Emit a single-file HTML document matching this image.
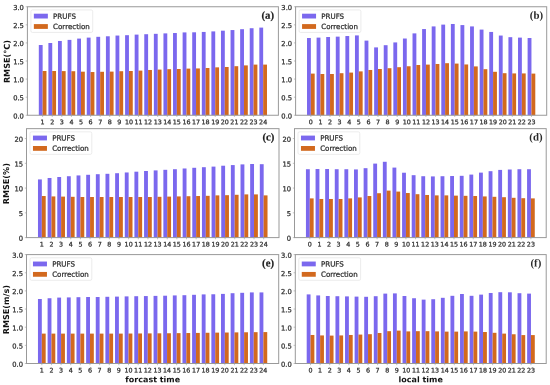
<!DOCTYPE html>
<html><head><meta charset="utf-8"><title>RMSE</title>
<style>
html,body{margin:0;padding:0;background:#fff}
svg{display:block;text-rendering:geometricPrecision;font-family:"DejaVu Sans","Liberation Sans",sans-serif}
.tag{font-family:"Liberation Serif","DejaVu Serif",serif;font-weight:bold;font-size:10.8px;fill:#202020;stroke:#202020;stroke-width:0.2px;text-anchor:middle}
.tag.r{stroke-width:0;fill:#2a2a2a}
.t text{stroke:#2e2e2e;stroke-width:.25px}
.lab{font-weight:bold;font-size:8.1px;fill:#111;text-anchor:middle}
</style></head><body>
<svg width="550" height="385" viewBox="0 0 550 385">
<rect width="550" height="385" fill="#fff"/>
<g>
<rect x="38.81" y="45.02" width="3.83" height="70.23" fill="#7b68ee"/>
<rect x="42.64" y="71" width="3.83" height="44.25" fill="#d2691e"/>
<rect x="48.4" y="43" width="3.83" height="72.25" fill="#7b68ee"/>
<rect x="52.23" y="71" width="3.83" height="44.25" fill="#d2691e"/>
<rect x="57.98" y="40.97" width="3.83" height="74.28" fill="#7b68ee"/>
<rect x="61.82" y="71.1" width="3.83" height="44.15" fill="#d2691e"/>
<rect x="67.57" y="39.89" width="3.83" height="75.36" fill="#7b68ee"/>
<rect x="71.41" y="71.21" width="3.83" height="44.04" fill="#d2691e"/>
<rect x="77.16" y="38.59" width="3.83" height="76.66" fill="#7b68ee"/>
<rect x="80.99" y="71.68" width="3.83" height="43.57" fill="#d2691e"/>
<rect x="86.75" y="37.61" width="3.83" height="77.64" fill="#7b68ee"/>
<rect x="90.58" y="72.04" width="3.83" height="43.21" fill="#d2691e"/>
<rect x="96.33" y="36.82" width="3.83" height="78.43" fill="#7b68ee"/>
<rect x="100.17" y="71.79" width="3.83" height="43.46" fill="#d2691e"/>
<rect x="105.92" y="36.28" width="3.83" height="78.97" fill="#7b68ee"/>
<rect x="109.76" y="71.61" width="3.83" height="43.64" fill="#d2691e"/>
<rect x="115.51" y="35.55" width="3.83" height="79.7" fill="#7b68ee"/>
<rect x="119.34" y="71.21" width="3.83" height="44.04" fill="#d2691e"/>
<rect x="125.1" y="35.19" width="3.83" height="80.06" fill="#7b68ee"/>
<rect x="128.93" y="71" width="3.83" height="44.25" fill="#d2691e"/>
<rect x="134.68" y="34.61" width="3.83" height="80.64" fill="#7b68ee"/>
<rect x="138.52" y="70.6" width="3.83" height="44.65" fill="#d2691e"/>
<rect x="144.27" y="34.22" width="3.83" height="81.03" fill="#7b68ee"/>
<rect x="148.11" y="69.98" width="3.83" height="45.27" fill="#d2691e"/>
<rect x="153.86" y="33.82" width="3.83" height="81.43" fill="#7b68ee"/>
<rect x="157.69" y="69.59" width="3.83" height="45.66" fill="#d2691e"/>
<rect x="163.45" y="33.38" width="3.83" height="81.87" fill="#7b68ee"/>
<rect x="167.28" y="69.19" width="3.83" height="46.06" fill="#d2691e"/>
<rect x="173.03" y="33.02" width="3.83" height="82.23" fill="#7b68ee"/>
<rect x="176.87" y="69.01" width="3.83" height="46.24" fill="#d2691e"/>
<rect x="182.62" y="32.41" width="3.83" height="82.84" fill="#7b68ee"/>
<rect x="186.46" y="68.61" width="3.83" height="46.64" fill="#d2691e"/>
<rect x="192.21" y="32.3" width="3.83" height="82.95" fill="#7b68ee"/>
<rect x="196.04" y="68.43" width="3.83" height="46.82" fill="#d2691e"/>
<rect x="201.8" y="31.94" width="3.83" height="83.31" fill="#7b68ee"/>
<rect x="205.63" y="68" width="3.83" height="47.25" fill="#d2691e"/>
<rect x="211.38" y="31.4" width="3.83" height="83.85" fill="#7b68ee"/>
<rect x="215.22" y="67.35" width="3.83" height="47.9" fill="#d2691e"/>
<rect x="220.97" y="30.68" width="3.83" height="84.57" fill="#7b68ee"/>
<rect x="224.81" y="66.99" width="3.83" height="48.26" fill="#d2691e"/>
<rect x="230.56" y="30.06" width="3.83" height="85.19" fill="#7b68ee"/>
<rect x="234.39" y="66.19" width="3.83" height="49.06" fill="#d2691e"/>
<rect x="240.15" y="29.19" width="3.83" height="86.06" fill="#7b68ee"/>
<rect x="243.98" y="65.4" width="3.83" height="49.85" fill="#d2691e"/>
<rect x="249.73" y="28.22" width="3.83" height="87.03" fill="#7b68ee"/>
<rect x="253.57" y="64.6" width="3.83" height="50.65" fill="#d2691e"/>
<rect x="259.32" y="27.6" width="3.83" height="87.65" fill="#7b68ee"/>
<rect x="263.16" y="64.6" width="3.83" height="50.65" fill="#d2691e"/>
<rect x="27.4" y="6.75" width="251" height="108.5" fill="none" stroke="#999" stroke-width="1"/>
<path d="M42.64 115.25v1.7M52.23 115.25v1.7M61.82 115.25v1.7M71.41 115.25v1.7M80.99 115.25v1.7M90.58 115.25v1.7M100.17 115.25v1.7M109.76 115.25v1.7M119.34 115.25v1.7M128.93 115.25v1.7M138.52 115.25v1.7M148.11 115.25v1.7M157.69 115.25v1.7M167.28 115.25v1.7M176.87 115.25v1.7M186.46 115.25v1.7M196.04 115.25v1.7M205.63 115.25v1.7M215.22 115.25v1.7M224.81 115.25v1.7M234.39 115.25v1.7M243.98 115.25v1.7M253.57 115.25v1.7M263.16 115.25v1.7M27.4 115.25h-1.7M27.4 97.17h-1.7M27.4 79.08h-1.7M27.4 61h-1.7M27.4 42.92h-1.7M27.4 24.83h-1.7M27.4 6.75h-1.7" stroke="#999" stroke-width="0.6" fill="none"/>
<g class="t" font-size="7.1" fill="#2e2e2e">
<g text-anchor="middle" font-size="6.35">
<text transform="rotate(0.03 42.64 124.2)" x="42.64" y="124.2">1</text>
<text transform="rotate(0.03 52.23 124.2)" x="52.23" y="124.2">2</text>
<text transform="rotate(0.03 61.82 124.2)" x="61.82" y="124.2">3</text>
<text transform="rotate(0.03 71.41 124.2)" x="71.41" y="124.2">4</text>
<text transform="rotate(0.03 80.99 124.2)" x="80.99" y="124.2">5</text>
<text transform="rotate(0.03 90.58 124.2)" x="90.58" y="124.2">6</text>
<text transform="rotate(0.03 100.17 124.2)" x="100.17" y="124.2">7</text>
<text transform="rotate(0.03 109.76 124.2)" x="109.76" y="124.2">8</text>
<text transform="rotate(0.03 119.34 124.2)" x="119.34" y="124.2">9</text>
<text transform="rotate(0.03 128.93 124.2)" x="128.93" y="124.2">10</text>
<text transform="rotate(0.03 138.52 124.2)" x="138.52" y="124.2">11</text>
<text transform="rotate(0.03 148.11 124.2)" x="148.11" y="124.2">12</text>
<text transform="rotate(0.03 157.69 124.2)" x="157.69" y="124.2">13</text>
<text transform="rotate(0.03 167.28 124.2)" x="167.28" y="124.2">14</text>
<text transform="rotate(0.03 176.87 124.2)" x="176.87" y="124.2">15</text>
<text transform="rotate(0.03 186.46 124.2)" x="186.46" y="124.2">16</text>
<text transform="rotate(0.03 196.04 124.2)" x="196.04" y="124.2">17</text>
<text transform="rotate(0.03 205.63 124.2)" x="205.63" y="124.2">18</text>
<text transform="rotate(0.03 215.22 124.2)" x="215.22" y="124.2">19</text>
<text transform="rotate(0.03 224.81 124.2)" x="224.81" y="124.2">20</text>
<text transform="rotate(0.03 234.39 124.2)" x="234.39" y="124.2">21</text>
<text transform="rotate(0.03 243.98 124.2)" x="243.98" y="124.2">22</text>
<text transform="rotate(0.03 253.57 124.2)" x="253.57" y="124.2">23</text>
<text transform="rotate(0.03 263.16 124.2)" x="263.16" y="124.2">24</text>
</g><g text-anchor="end" font-size="6.75">
<text transform="rotate(0.03 23.9 118.45)" x="23.9" y="118.45">0.0</text>
<text transform="rotate(0.03 23.9 100.37)" x="23.9" y="100.37">0.5</text>
<text transform="rotate(0.03 23.9 82.28)" x="23.9" y="82.28">1.0</text>
<text transform="rotate(0.03 23.9 64.2)" x="23.9" y="64.2">1.5</text>
<text transform="rotate(0.03 23.9 46.12)" x="23.9" y="46.12">2.0</text>
<text transform="rotate(0.03 23.9 28.03)" x="23.9" y="28.03">2.5</text>
<text transform="rotate(0.03 23.9 9.95)" x="23.9" y="9.95">3.0</text>
</g>
<rect x="30.9" y="9.95" width="61.8" height="22.5" rx="1.5" fill="#fff" fill-opacity="0.8" stroke="#e4e4e4" stroke-width="0.7"/>
<rect x="33.86" y="13.7" width="14" height="4.8" fill="#7b68ee"/>
<rect x="33.86" y="24.1" width="14" height="4.8" fill="#d2691e"/>
<text transform="rotate(0.03 53.06 18.65)" font-size="7.1" x="53.06" y="18.65">PRUFS</text>
<text transform="rotate(0.03 53.06 28.9)" font-size="7.1" x="53.06" y="28.9">Correction</text>
</g>
<text transform="rotate(0.03 267.8 18.65)" class="tag" x="267.8" y="18.65">(a)</text>
<text class="lab" transform="translate(9.8 61.6) rotate(-89.97)">RMSE(°C)</text>
</g>
<g>
<rect x="307.01" y="38.01" width="3.84" height="77.24" fill="#7b68ee"/>
<rect x="310.85" y="73.6" width="3.84" height="41.65" fill="#d2691e"/>
<rect x="316.6" y="37.61" width="3.84" height="77.64" fill="#7b68ee"/>
<rect x="320.44" y="74" width="3.84" height="41.25" fill="#d2691e"/>
<rect x="326.2" y="37" width="3.84" height="78.25" fill="#7b68ee"/>
<rect x="330.03" y="74" width="3.84" height="41.25" fill="#d2691e"/>
<rect x="335.79" y="36.64" width="3.84" height="78.61" fill="#7b68ee"/>
<rect x="339.62" y="73.2" width="3.84" height="42.05" fill="#d2691e"/>
<rect x="345.38" y="36.02" width="3.84" height="79.23" fill="#7b68ee"/>
<rect x="349.22" y="72.59" width="3.84" height="42.66" fill="#d2691e"/>
<rect x="354.97" y="35.41" width="3.84" height="79.84" fill="#7b68ee"/>
<rect x="358.81" y="71.39" width="3.84" height="43.86" fill="#d2691e"/>
<rect x="364.56" y="40.61" width="3.84" height="74.64" fill="#7b68ee"/>
<rect x="368.4" y="69.98" width="3.84" height="45.27" fill="#d2691e"/>
<rect x="374.15" y="47.4" width="3.84" height="67.85" fill="#7b68ee"/>
<rect x="377.99" y="69.01" width="3.84" height="46.24" fill="#d2691e"/>
<rect x="383.74" y="45.2" width="3.84" height="70.05" fill="#7b68ee"/>
<rect x="387.58" y="68.21" width="3.84" height="47.04" fill="#d2691e"/>
<rect x="393.34" y="42.42" width="3.84" height="72.83" fill="#7b68ee"/>
<rect x="397.17" y="67.2" width="3.84" height="48.05" fill="#d2691e"/>
<rect x="402.93" y="38.52" width="3.84" height="76.73" fill="#7b68ee"/>
<rect x="406.76" y="66.26" width="3.84" height="48.99" fill="#d2691e"/>
<rect x="412.52" y="33.38" width="3.84" height="81.87" fill="#7b68ee"/>
<rect x="416.35" y="65" width="3.84" height="50.25" fill="#d2691e"/>
<rect x="422.11" y="29.05" width="3.84" height="86.2" fill="#7b68ee"/>
<rect x="425.95" y="64.6" width="3.84" height="50.65" fill="#d2691e"/>
<rect x="431.7" y="26.41" width="3.84" height="88.84" fill="#7b68ee"/>
<rect x="435.54" y="63.99" width="3.84" height="51.26" fill="#d2691e"/>
<rect x="441.29" y="24.61" width="3.84" height="90.64" fill="#7b68ee"/>
<rect x="445.13" y="63.19" width="3.84" height="52.06" fill="#d2691e"/>
<rect x="450.88" y="23.99" width="3.84" height="91.26" fill="#7b68ee"/>
<rect x="454.72" y="63.59" width="3.84" height="51.66" fill="#d2691e"/>
<rect x="460.47" y="25.08" width="3.84" height="90.17" fill="#7b68ee"/>
<rect x="464.31" y="64.46" width="3.84" height="50.79" fill="#d2691e"/>
<rect x="470.07" y="26.41" width="3.84" height="88.84" fill="#7b68ee"/>
<rect x="473.9" y="66.41" width="3.84" height="48.84" fill="#d2691e"/>
<rect x="479.66" y="29.59" width="3.84" height="85.66" fill="#7b68ee"/>
<rect x="483.49" y="69.19" width="3.84" height="46.06" fill="#d2691e"/>
<rect x="489.25" y="31.94" width="3.84" height="83.31" fill="#7b68ee"/>
<rect x="493.08" y="71.79" width="3.84" height="43.46" fill="#d2691e"/>
<rect x="498.84" y="35.55" width="3.84" height="79.7" fill="#7b68ee"/>
<rect x="502.68" y="73.2" width="3.84" height="42.05" fill="#d2691e"/>
<rect x="508.43" y="37.18" width="3.84" height="78.07" fill="#7b68ee"/>
<rect x="512.27" y="73.42" width="3.84" height="41.83" fill="#d2691e"/>
<rect x="518.02" y="37.61" width="3.84" height="77.64" fill="#7b68ee"/>
<rect x="521.86" y="73.42" width="3.84" height="41.83" fill="#d2691e"/>
<rect x="527.61" y="38.01" width="3.84" height="77.24" fill="#7b68ee"/>
<rect x="531.45" y="73.6" width="3.84" height="41.65" fill="#d2691e"/>
<rect x="295.6" y="6.75" width="251.1" height="108.5" fill="none" stroke="#999" stroke-width="1"/>
<path d="M310.85 115.25v1.7M320.44 115.25v1.7M330.03 115.25v1.7M339.62 115.25v1.7M349.22 115.25v1.7M358.81 115.25v1.7M368.4 115.25v1.7M377.99 115.25v1.7M387.58 115.25v1.7M397.17 115.25v1.7M406.76 115.25v1.7M416.35 115.25v1.7M425.95 115.25v1.7M435.54 115.25v1.7M445.13 115.25v1.7M454.72 115.25v1.7M464.31 115.25v1.7M473.9 115.25v1.7M483.49 115.25v1.7M493.08 115.25v1.7M502.68 115.25v1.7M512.27 115.25v1.7M521.86 115.25v1.7M531.45 115.25v1.7M295.6 115.25h-1.7M295.6 97.17h-1.7M295.6 79.08h-1.7M295.6 61h-1.7M295.6 42.92h-1.7M295.6 24.83h-1.7M295.6 6.75h-1.7" stroke="#999" stroke-width="0.6" fill="none"/>
<g class="t" font-size="7.1" fill="#2e2e2e">
<g text-anchor="middle" font-size="6.35">
<text transform="rotate(0.03 310.85 124.2)" x="310.85" y="124.2">0</text>
<text transform="rotate(0.03 320.44 124.2)" x="320.44" y="124.2">1</text>
<text transform="rotate(0.03 330.03 124.2)" x="330.03" y="124.2">2</text>
<text transform="rotate(0.03 339.62 124.2)" x="339.62" y="124.2">3</text>
<text transform="rotate(0.03 349.22 124.2)" x="349.22" y="124.2">4</text>
<text transform="rotate(0.03 358.81 124.2)" x="358.81" y="124.2">5</text>
<text transform="rotate(0.03 368.4 124.2)" x="368.4" y="124.2">6</text>
<text transform="rotate(0.03 377.99 124.2)" x="377.99" y="124.2">7</text>
<text transform="rotate(0.03 387.58 124.2)" x="387.58" y="124.2">8</text>
<text transform="rotate(0.03 397.17 124.2)" x="397.17" y="124.2">9</text>
<text transform="rotate(0.03 406.76 124.2)" x="406.76" y="124.2">10</text>
<text transform="rotate(0.03 416.35 124.2)" x="416.35" y="124.2">11</text>
<text transform="rotate(0.03 425.95 124.2)" x="425.95" y="124.2">12</text>
<text transform="rotate(0.03 435.54 124.2)" x="435.54" y="124.2">13</text>
<text transform="rotate(0.03 445.13 124.2)" x="445.13" y="124.2">14</text>
<text transform="rotate(0.03 454.72 124.2)" x="454.72" y="124.2">15</text>
<text transform="rotate(0.03 464.31 124.2)" x="464.31" y="124.2">16</text>
<text transform="rotate(0.03 473.9 124.2)" x="473.9" y="124.2">17</text>
<text transform="rotate(0.03 483.49 124.2)" x="483.49" y="124.2">18</text>
<text transform="rotate(0.03 493.08 124.2)" x="493.08" y="124.2">19</text>
<text transform="rotate(0.03 502.68 124.2)" x="502.68" y="124.2">20</text>
<text transform="rotate(0.03 512.27 124.2)" x="512.27" y="124.2">21</text>
<text transform="rotate(0.03 521.86 124.2)" x="521.86" y="124.2">22</text>
<text transform="rotate(0.03 531.45 124.2)" x="531.45" y="124.2">23</text>
</g><g text-anchor="end" font-size="6.75">
<text transform="rotate(0.03 292.1 118.45)" x="292.1" y="118.45">0.0</text>
<text transform="rotate(0.03 292.1 100.37)" x="292.1" y="100.37">0.5</text>
<text transform="rotate(0.03 292.1 82.28)" x="292.1" y="82.28">1.0</text>
<text transform="rotate(0.03 292.1 64.2)" x="292.1" y="64.2">1.5</text>
<text transform="rotate(0.03 292.1 46.12)" x="292.1" y="46.12">2.0</text>
<text transform="rotate(0.03 292.1 28.03)" x="292.1" y="28.03">2.5</text>
<text transform="rotate(0.03 292.1 9.95)" x="292.1" y="9.95">3.0</text>
</g>
<rect x="299.1" y="9.95" width="61.8" height="22.5" rx="1.5" fill="#fff" fill-opacity="0.8" stroke="#e4e4e4" stroke-width="0.7"/>
<rect x="302.06" y="13.7" width="14" height="4.8" fill="#7b68ee"/>
<rect x="302.06" y="24.1" width="14" height="4.8" fill="#d2691e"/>
<text transform="rotate(0.03 321.26 18.65)" font-size="7.1" x="321.26" y="18.65">PRUFS</text>
<text transform="rotate(0.03 321.26 28.9)" font-size="7.1" x="321.26" y="28.9">Correction</text>
</g>
<text transform="rotate(0.03 536.4 18.65)" class="tag r" x="536.4" y="18.65">(b)</text>
</g>
<g>
<rect x="37.98" y="179.42" width="3.86" height="58.18" fill="#7b68ee"/>
<rect x="41.84" y="196.02" width="3.86" height="41.58" fill="#d2691e"/>
<rect x="47.62" y="177.99" width="3.86" height="59.61" fill="#7b68ee"/>
<rect x="51.48" y="196.42" width="3.86" height="41.18" fill="#d2691e"/>
<rect x="57.27" y="177" width="3.86" height="60.6" fill="#7b68ee"/>
<rect x="61.12" y="196.61" width="3.86" height="40.99" fill="#d2691e"/>
<rect x="66.91" y="176.22" width="3.86" height="61.38" fill="#7b68ee"/>
<rect x="70.77" y="196.81" width="3.86" height="40.79" fill="#d2691e"/>
<rect x="76.56" y="175.43" width="3.86" height="62.17" fill="#7b68ee"/>
<rect x="80.41" y="197.01" width="3.86" height="40.59" fill="#d2691e"/>
<rect x="86.2" y="174.79" width="3.86" height="62.81" fill="#7b68ee"/>
<rect x="90.06" y="197.01" width="3.86" height="40.59" fill="#d2691e"/>
<rect x="95.85" y="174.2" width="3.86" height="63.4" fill="#7b68ee"/>
<rect x="99.7" y="197.01" width="3.86" height="40.59" fill="#d2691e"/>
<rect x="105.49" y="173.8" width="3.86" height="63.8" fill="#7b68ee"/>
<rect x="109.35" y="197.01" width="3.86" height="40.59" fill="#d2691e"/>
<rect x="115.14" y="173.21" width="3.86" height="64.39" fill="#7b68ee"/>
<rect x="118.99" y="197.01" width="3.86" height="40.59" fill="#d2691e"/>
<rect x="124.78" y="172.47" width="3.86" height="65.13" fill="#7b68ee"/>
<rect x="128.64" y="197.01" width="3.86" height="40.59" fill="#d2691e"/>
<rect x="134.42" y="171.68" width="3.86" height="65.92" fill="#7b68ee"/>
<rect x="138.28" y="197.01" width="3.86" height="40.59" fill="#d2691e"/>
<rect x="144.07" y="170.99" width="3.86" height="66.61" fill="#7b68ee"/>
<rect x="147.93" y="197.01" width="3.86" height="40.59" fill="#d2691e"/>
<rect x="153.71" y="170.4" width="3.86" height="67.2" fill="#7b68ee"/>
<rect x="157.57" y="196.81" width="3.86" height="40.79" fill="#d2691e"/>
<rect x="163.36" y="169.81" width="3.86" height="67.79" fill="#7b68ee"/>
<rect x="167.22" y="196.61" width="3.86" height="40.99" fill="#d2691e"/>
<rect x="173" y="169.22" width="3.86" height="68.38" fill="#7b68ee"/>
<rect x="176.86" y="196.42" width="3.86" height="41.18" fill="#d2691e"/>
<rect x="182.65" y="168.48" width="3.86" height="69.12" fill="#7b68ee"/>
<rect x="186.51" y="196.22" width="3.86" height="41.38" fill="#d2691e"/>
<rect x="192.29" y="167.79" width="3.86" height="69.81" fill="#7b68ee"/>
<rect x="196.15" y="196.02" width="3.86" height="41.58" fill="#d2691e"/>
<rect x="201.94" y="167.2" width="3.86" height="70.4" fill="#7b68ee"/>
<rect x="205.8" y="195.82" width="3.86" height="41.78" fill="#d2691e"/>
<rect x="211.58" y="166.61" width="3.86" height="70.99" fill="#7b68ee"/>
<rect x="215.44" y="195.38" width="3.86" height="42.22" fill="#d2691e"/>
<rect x="221.23" y="165.72" width="3.86" height="71.88" fill="#7b68ee"/>
<rect x="225.09" y="195.18" width="3.86" height="42.42" fill="#d2691e"/>
<rect x="230.87" y="165.08" width="3.86" height="72.52" fill="#7b68ee"/>
<rect x="234.73" y="194.79" width="3.86" height="42.81" fill="#d2691e"/>
<rect x="240.52" y="164.39" width="3.86" height="73.21" fill="#7b68ee"/>
<rect x="244.38" y="194.4" width="3.86" height="43.2" fill="#d2691e"/>
<rect x="250.16" y="164" width="3.86" height="73.6" fill="#7b68ee"/>
<rect x="254.02" y="194.4" width="3.86" height="43.2" fill="#d2691e"/>
<rect x="259.81" y="164.19" width="3.86" height="73.41" fill="#7b68ee"/>
<rect x="263.66" y="195.38" width="3.86" height="42.22" fill="#d2691e"/>
<rect x="26.5" y="128.65" width="252.5" height="108.95" fill="none" stroke="#999" stroke-width="1"/>
<path d="M41.84 237.6v1.7M51.48 237.6v1.7M61.12 237.6v1.7M70.77 237.6v1.7M80.41 237.6v1.7M90.06 237.6v1.7M99.7 237.6v1.7M109.35 237.6v1.7M118.99 237.6v1.7M128.64 237.6v1.7M138.28 237.6v1.7M147.93 237.6v1.7M157.57 237.6v1.7M167.22 237.6v1.7M176.86 237.6v1.7M186.51 237.6v1.7M196.15 237.6v1.7M205.8 237.6v1.7M215.44 237.6v1.7M225.09 237.6v1.7M234.73 237.6v1.7M244.38 237.6v1.7M254.02 237.6v1.7M263.66 237.6v1.7M26.5 237.6h-1.7M26.5 212.84h-1.7M26.5 188.08h-1.7M26.5 163.32h-1.7M26.5 138.55h-1.7" stroke="#999" stroke-width="0.6" fill="none"/>
<g class="t" font-size="7.1" fill="#2e2e2e">
<g text-anchor="middle" font-size="6.35">
<text transform="rotate(0.03 41.84 246.55)" x="41.84" y="246.55">1</text>
<text transform="rotate(0.03 51.48 246.55)" x="51.48" y="246.55">2</text>
<text transform="rotate(0.03 61.12 246.55)" x="61.12" y="246.55">3</text>
<text transform="rotate(0.03 70.77 246.55)" x="70.77" y="246.55">4</text>
<text transform="rotate(0.03 80.41 246.55)" x="80.41" y="246.55">5</text>
<text transform="rotate(0.03 90.06 246.55)" x="90.06" y="246.55">6</text>
<text transform="rotate(0.03 99.7 246.55)" x="99.7" y="246.55">7</text>
<text transform="rotate(0.03 109.35 246.55)" x="109.35" y="246.55">8</text>
<text transform="rotate(0.03 118.99 246.55)" x="118.99" y="246.55">9</text>
<text transform="rotate(0.03 128.64 246.55)" x="128.64" y="246.55">10</text>
<text transform="rotate(0.03 138.28 246.55)" x="138.28" y="246.55">11</text>
<text transform="rotate(0.03 147.93 246.55)" x="147.93" y="246.55">12</text>
<text transform="rotate(0.03 157.57 246.55)" x="157.57" y="246.55">13</text>
<text transform="rotate(0.03 167.22 246.55)" x="167.22" y="246.55">14</text>
<text transform="rotate(0.03 176.86 246.55)" x="176.86" y="246.55">15</text>
<text transform="rotate(0.03 186.51 246.55)" x="186.51" y="246.55">16</text>
<text transform="rotate(0.03 196.15 246.55)" x="196.15" y="246.55">17</text>
<text transform="rotate(0.03 205.8 246.55)" x="205.8" y="246.55">18</text>
<text transform="rotate(0.03 215.44 246.55)" x="215.44" y="246.55">19</text>
<text transform="rotate(0.03 225.09 246.55)" x="225.09" y="246.55">20</text>
<text transform="rotate(0.03 234.73 246.55)" x="234.73" y="246.55">21</text>
<text transform="rotate(0.03 244.38 246.55)" x="244.38" y="246.55">22</text>
<text transform="rotate(0.03 254.02 246.55)" x="254.02" y="246.55">23</text>
<text transform="rotate(0.03 263.66 246.55)" x="263.66" y="246.55">24</text>
</g><g text-anchor="end" font-size="6.75">
<text transform="rotate(0.03 23 240.8)" x="23" y="240.8">0</text>
<text transform="rotate(0.03 23 216.04)" x="23" y="216.04">5</text>
<text transform="rotate(0.03 23 191.28)" x="23" y="191.28">10</text>
<text transform="rotate(0.03 23 166.52)" x="23" y="166.52">15</text>
<text transform="rotate(0.03 23 141.75)" x="23" y="141.75">20</text>
</g>
<rect x="30" y="131.85" width="61.8" height="22.5" rx="1.5" fill="#fff" fill-opacity="0.8" stroke="#e4e4e4" stroke-width="0.7"/>
<rect x="32.96" y="135.6" width="14" height="4.8" fill="#7b68ee"/>
<rect x="32.96" y="146" width="14" height="4.8" fill="#d2691e"/>
<text transform="rotate(0.03 52.16 140.55)" font-size="7.1" x="52.16" y="140.55">PRUFS</text>
<text transform="rotate(0.03 52.16 150.8)" font-size="7.1" x="52.16" y="150.8">Correction</text>
</g>
<text transform="rotate(0.03 268.4 140.55)" class="tag" x="268.4" y="140.55">(c)</text>
<text class="lab" transform="translate(8.9 183.72) rotate(-89.97)">RMSE(%)</text>
</g>
<g>
<rect x="305.94" y="169.22" width="3.85" height="68.38" fill="#7b68ee"/>
<rect x="309.79" y="198.39" width="3.85" height="39.21" fill="#d2691e"/>
<rect x="315.56" y="169.02" width="3.85" height="68.58" fill="#7b68ee"/>
<rect x="319.4" y="198.98" width="3.85" height="38.62" fill="#d2691e"/>
<rect x="325.17" y="169.02" width="3.85" height="68.58" fill="#7b68ee"/>
<rect x="329.02" y="198.98" width="3.85" height="38.62" fill="#d2691e"/>
<rect x="334.78" y="169.22" width="3.85" height="68.38" fill="#7b68ee"/>
<rect x="338.63" y="198.98" width="3.85" height="38.62" fill="#d2691e"/>
<rect x="344.4" y="169.22" width="3.85" height="68.38" fill="#7b68ee"/>
<rect x="348.24" y="198.39" width="3.85" height="39.21" fill="#d2691e"/>
<rect x="354.01" y="169.42" width="3.85" height="68.18" fill="#7b68ee"/>
<rect x="357.86" y="197.4" width="3.85" height="40.2" fill="#d2691e"/>
<rect x="363.63" y="168.18" width="3.85" height="69.42" fill="#7b68ee"/>
<rect x="367.47" y="196.02" width="3.85" height="41.58" fill="#d2691e"/>
<rect x="373.24" y="163.6" width="3.85" height="74" fill="#7b68ee"/>
<rect x="377.09" y="193.21" width="3.85" height="44.39" fill="#d2691e"/>
<rect x="382.85" y="161.78" width="3.85" height="75.82" fill="#7b68ee"/>
<rect x="386.7" y="190.6" width="3.85" height="47" fill="#d2691e"/>
<rect x="392.47" y="167.59" width="3.85" height="70.01" fill="#7b68ee"/>
<rect x="396.31" y="191.59" width="3.85" height="46.01" fill="#d2691e"/>
<rect x="402.08" y="172.72" width="3.85" height="64.88" fill="#7b68ee"/>
<rect x="405.93" y="193.02" width="3.85" height="44.58" fill="#d2691e"/>
<rect x="411.7" y="175.18" width="3.85" height="62.42" fill="#7b68ee"/>
<rect x="415.54" y="194.2" width="3.85" height="43.4" fill="#d2691e"/>
<rect x="421.31" y="176.22" width="3.85" height="61.38" fill="#7b68ee"/>
<rect x="425.16" y="194.99" width="3.85" height="42.61" fill="#d2691e"/>
<rect x="430.93" y="176.41" width="3.85" height="61.19" fill="#7b68ee"/>
<rect x="434.77" y="195.38" width="3.85" height="42.22" fill="#d2691e"/>
<rect x="440.54" y="176.22" width="3.85" height="61.38" fill="#7b68ee"/>
<rect x="444.39" y="195.38" width="3.85" height="42.22" fill="#d2691e"/>
<rect x="450.15" y="176.02" width="3.85" height="61.58" fill="#7b68ee"/>
<rect x="454" y="195.63" width="3.85" height="41.97" fill="#d2691e"/>
<rect x="459.77" y="175.82" width="3.85" height="61.78" fill="#7b68ee"/>
<rect x="463.61" y="195.82" width="3.85" height="41.78" fill="#d2691e"/>
<rect x="469.38" y="174.59" width="3.85" height="63.01" fill="#7b68ee"/>
<rect x="473.23" y="196.02" width="3.85" height="41.58" fill="#d2691e"/>
<rect x="479" y="172.62" width="3.85" height="64.98" fill="#7b68ee"/>
<rect x="482.84" y="196.42" width="3.85" height="41.18" fill="#d2691e"/>
<rect x="488.61" y="171.19" width="3.85" height="66.41" fill="#7b68ee"/>
<rect x="492.46" y="196.81" width="3.85" height="40.79" fill="#d2691e"/>
<rect x="498.23" y="169.91" width="3.85" height="67.69" fill="#7b68ee"/>
<rect x="502.07" y="197.2" width="3.85" height="40.4" fill="#d2691e"/>
<rect x="507.84" y="169.51" width="3.85" height="68.09" fill="#7b68ee"/>
<rect x="511.68" y="197.8" width="3.85" height="39.8" fill="#d2691e"/>
<rect x="517.45" y="169.22" width="3.85" height="68.38" fill="#7b68ee"/>
<rect x="521.3" y="198.19" width="3.85" height="39.41" fill="#d2691e"/>
<rect x="527.07" y="169.22" width="3.85" height="68.38" fill="#7b68ee"/>
<rect x="530.91" y="198.39" width="3.85" height="39.21" fill="#d2691e"/>
<rect x="294.5" y="128.65" width="251.7" height="108.95" fill="none" stroke="#999" stroke-width="1"/>
<path d="M309.79 237.6v1.7M319.4 237.6v1.7M329.02 237.6v1.7M338.63 237.6v1.7M348.24 237.6v1.7M357.86 237.6v1.7M367.47 237.6v1.7M377.09 237.6v1.7M386.7 237.6v1.7M396.31 237.6v1.7M405.93 237.6v1.7M415.54 237.6v1.7M425.16 237.6v1.7M434.77 237.6v1.7M444.39 237.6v1.7M454 237.6v1.7M463.61 237.6v1.7M473.23 237.6v1.7M482.84 237.6v1.7M492.46 237.6v1.7M502.07 237.6v1.7M511.68 237.6v1.7M521.3 237.6v1.7M530.91 237.6v1.7M294.5 237.6h-1.7M294.5 212.84h-1.7M294.5 188.08h-1.7M294.5 163.32h-1.7M294.5 138.55h-1.7" stroke="#999" stroke-width="0.6" fill="none"/>
<g class="t" font-size="7.1" fill="#2e2e2e">
<g text-anchor="middle" font-size="6.35">
<text transform="rotate(0.03 309.79 246.55)" x="309.79" y="246.55">0</text>
<text transform="rotate(0.03 319.4 246.55)" x="319.4" y="246.55">1</text>
<text transform="rotate(0.03 329.02 246.55)" x="329.02" y="246.55">2</text>
<text transform="rotate(0.03 338.63 246.55)" x="338.63" y="246.55">3</text>
<text transform="rotate(0.03 348.24 246.55)" x="348.24" y="246.55">4</text>
<text transform="rotate(0.03 357.86 246.55)" x="357.86" y="246.55">5</text>
<text transform="rotate(0.03 367.47 246.55)" x="367.47" y="246.55">6</text>
<text transform="rotate(0.03 377.09 246.55)" x="377.09" y="246.55">7</text>
<text transform="rotate(0.03 386.7 246.55)" x="386.7" y="246.55">8</text>
<text transform="rotate(0.03 396.31 246.55)" x="396.31" y="246.55">9</text>
<text transform="rotate(0.03 405.93 246.55)" x="405.93" y="246.55">10</text>
<text transform="rotate(0.03 415.54 246.55)" x="415.54" y="246.55">11</text>
<text transform="rotate(0.03 425.16 246.55)" x="425.16" y="246.55">12</text>
<text transform="rotate(0.03 434.77 246.55)" x="434.77" y="246.55">13</text>
<text transform="rotate(0.03 444.39 246.55)" x="444.39" y="246.55">14</text>
<text transform="rotate(0.03 454 246.55)" x="454" y="246.55">15</text>
<text transform="rotate(0.03 463.61 246.55)" x="463.61" y="246.55">16</text>
<text transform="rotate(0.03 473.23 246.55)" x="473.23" y="246.55">17</text>
<text transform="rotate(0.03 482.84 246.55)" x="482.84" y="246.55">18</text>
<text transform="rotate(0.03 492.46 246.55)" x="492.46" y="246.55">19</text>
<text transform="rotate(0.03 502.07 246.55)" x="502.07" y="246.55">20</text>
<text transform="rotate(0.03 511.68 246.55)" x="511.68" y="246.55">21</text>
<text transform="rotate(0.03 521.3 246.55)" x="521.3" y="246.55">22</text>
<text transform="rotate(0.03 530.91 246.55)" x="530.91" y="246.55">23</text>
</g><g text-anchor="end" font-size="6.75">
<text transform="rotate(0.03 291 240.8)" x="291" y="240.8">0</text>
<text transform="rotate(0.03 291 216.04)" x="291" y="216.04">5</text>
<text transform="rotate(0.03 291 191.28)" x="291" y="191.28">10</text>
<text transform="rotate(0.03 291 166.52)" x="291" y="166.52">15</text>
<text transform="rotate(0.03 291 141.75)" x="291" y="141.75">20</text>
</g>
<rect x="298" y="131.85" width="61.8" height="22.5" rx="1.5" fill="#fff" fill-opacity="0.8" stroke="#e4e4e4" stroke-width="0.7"/>
<rect x="300.96" y="135.6" width="14" height="4.8" fill="#7b68ee"/>
<rect x="300.96" y="146" width="14" height="4.8" fill="#d2691e"/>
<text transform="rotate(0.03 320.16 140.55)" font-size="7.1" x="320.16" y="140.55">PRUFS</text>
<text transform="rotate(0.03 320.16 150.8)" font-size="7.1" x="320.16" y="150.8">Correction</text>
</g>
<text transform="rotate(0.03 535.9 140.55)" class="tag r" x="535.9" y="140.55">(d)</text>
</g>
<g>
<rect x="37.96" y="299" width="3.85" height="64.5" fill="#7b68ee"/>
<rect x="41.82" y="333.61" width="3.85" height="29.89" fill="#d2691e"/>
<rect x="47.6" y="298.24" width="3.85" height="65.26" fill="#7b68ee"/>
<rect x="51.45" y="333.61" width="3.85" height="29.89" fill="#d2691e"/>
<rect x="57.23" y="297.59" width="3.85" height="65.91" fill="#7b68ee"/>
<rect x="61.08" y="333.61" width="3.85" height="29.89" fill="#d2691e"/>
<rect x="66.86" y="297.41" width="3.85" height="66.09" fill="#7b68ee"/>
<rect x="70.72" y="333.61" width="3.85" height="29.89" fill="#d2691e"/>
<rect x="76.5" y="297.19" width="3.85" height="66.31" fill="#7b68ee"/>
<rect x="80.35" y="333.61" width="3.85" height="29.89" fill="#d2691e"/>
<rect x="86.13" y="297.01" width="3.85" height="66.49" fill="#7b68ee"/>
<rect x="89.98" y="333.61" width="3.85" height="29.89" fill="#d2691e"/>
<rect x="95.76" y="297.01" width="3.85" height="66.49" fill="#7b68ee"/>
<rect x="99.62" y="333.61" width="3.85" height="29.89" fill="#d2691e"/>
<rect x="105.4" y="296.79" width="3.85" height="66.71" fill="#7b68ee"/>
<rect x="109.25" y="333.61" width="3.85" height="29.89" fill="#d2691e"/>
<rect x="115.03" y="296.61" width="3.85" height="66.89" fill="#7b68ee"/>
<rect x="118.88" y="333.61" width="3.85" height="29.89" fill="#d2691e"/>
<rect x="124.66" y="296.39" width="3.85" height="67.11" fill="#7b68ee"/>
<rect x="128.52" y="333.53" width="3.85" height="29.97" fill="#d2691e"/>
<rect x="134.3" y="296.21" width="3.85" height="67.29" fill="#7b68ee"/>
<rect x="138.15" y="333.46" width="3.85" height="30.04" fill="#d2691e"/>
<rect x="143.93" y="296.07" width="3.85" height="67.43" fill="#7b68ee"/>
<rect x="147.78" y="333.39" width="3.85" height="30.11" fill="#d2691e"/>
<rect x="153.56" y="295.89" width="3.85" height="67.61" fill="#7b68ee"/>
<rect x="157.42" y="333.32" width="3.85" height="30.18" fill="#d2691e"/>
<rect x="163.2" y="295.71" width="3.85" height="67.79" fill="#7b68ee"/>
<rect x="167.05" y="333.25" width="3.85" height="30.25" fill="#d2691e"/>
<rect x="172.83" y="295.42" width="3.85" height="68.08" fill="#7b68ee"/>
<rect x="176.68" y="333.14" width="3.85" height="30.36" fill="#d2691e"/>
<rect x="182.46" y="295.2" width="3.85" height="68.3" fill="#7b68ee"/>
<rect x="186.32" y="333.03" width="3.85" height="30.47" fill="#d2691e"/>
<rect x="192.1" y="294.8" width="3.85" height="68.7" fill="#7b68ee"/>
<rect x="195.95" y="332.92" width="3.85" height="30.58" fill="#d2691e"/>
<rect x="201.73" y="294.4" width="3.85" height="69.1" fill="#7b68ee"/>
<rect x="205.58" y="332.77" width="3.85" height="30.73" fill="#d2691e"/>
<rect x="211.36" y="294.26" width="3.85" height="69.24" fill="#7b68ee"/>
<rect x="215.22" y="332.63" width="3.85" height="30.87" fill="#d2691e"/>
<rect x="221" y="293.9" width="3.85" height="69.6" fill="#7b68ee"/>
<rect x="224.85" y="332.52" width="3.85" height="30.98" fill="#d2691e"/>
<rect x="230.63" y="293.21" width="3.85" height="70.29" fill="#7b68ee"/>
<rect x="234.48" y="332.38" width="3.85" height="31.12" fill="#d2691e"/>
<rect x="240.26" y="292.81" width="3.85" height="70.69" fill="#7b68ee"/>
<rect x="244.12" y="332.27" width="3.85" height="31.23" fill="#d2691e"/>
<rect x="249.9" y="292.41" width="3.85" height="71.09" fill="#7b68ee"/>
<rect x="253.75" y="332.16" width="3.85" height="31.34" fill="#d2691e"/>
<rect x="259.53" y="292.41" width="3.85" height="71.09" fill="#7b68ee"/>
<rect x="263.38" y="332.09" width="3.85" height="31.41" fill="#d2691e"/>
<rect x="26.5" y="254.6" width="252.2" height="108.9" fill="none" stroke="#999" stroke-width="1"/>
<path d="M41.82 363.5v1.7M51.45 363.5v1.7M61.08 363.5v1.7M70.72 363.5v1.7M80.35 363.5v1.7M89.98 363.5v1.7M99.62 363.5v1.7M109.25 363.5v1.7M118.88 363.5v1.7M128.52 363.5v1.7M138.15 363.5v1.7M147.78 363.5v1.7M157.42 363.5v1.7M167.05 363.5v1.7M176.68 363.5v1.7M186.32 363.5v1.7M195.95 363.5v1.7M205.58 363.5v1.7M215.22 363.5v1.7M224.85 363.5v1.7M234.48 363.5v1.7M244.12 363.5v1.7M253.75 363.5v1.7M263.38 363.5v1.7M26.5 363.5h-1.7M26.5 345.35h-1.7M26.5 327.2h-1.7M26.5 309.05h-1.7M26.5 290.9h-1.7M26.5 272.75h-1.7M26.5 254.6h-1.7" stroke="#999" stroke-width="0.6" fill="none"/>
<g class="t" font-size="7.1" fill="#2e2e2e">
<g text-anchor="middle" font-size="6.35">
<text transform="rotate(0.03 41.82 372.45)" x="41.82" y="372.45">1</text>
<text transform="rotate(0.03 51.45 372.45)" x="51.45" y="372.45">2</text>
<text transform="rotate(0.03 61.08 372.45)" x="61.08" y="372.45">3</text>
<text transform="rotate(0.03 70.72 372.45)" x="70.72" y="372.45">4</text>
<text transform="rotate(0.03 80.35 372.45)" x="80.35" y="372.45">5</text>
<text transform="rotate(0.03 89.98 372.45)" x="89.98" y="372.45">6</text>
<text transform="rotate(0.03 99.62 372.45)" x="99.62" y="372.45">7</text>
<text transform="rotate(0.03 109.25 372.45)" x="109.25" y="372.45">8</text>
<text transform="rotate(0.03 118.88 372.45)" x="118.88" y="372.45">9</text>
<text transform="rotate(0.03 128.52 372.45)" x="128.52" y="372.45">10</text>
<text transform="rotate(0.03 138.15 372.45)" x="138.15" y="372.45">11</text>
<text transform="rotate(0.03 147.78 372.45)" x="147.78" y="372.45">12</text>
<text transform="rotate(0.03 157.42 372.45)" x="157.42" y="372.45">13</text>
<text transform="rotate(0.03 167.05 372.45)" x="167.05" y="372.45">14</text>
<text transform="rotate(0.03 176.68 372.45)" x="176.68" y="372.45">15</text>
<text transform="rotate(0.03 186.32 372.45)" x="186.32" y="372.45">16</text>
<text transform="rotate(0.03 195.95 372.45)" x="195.95" y="372.45">17</text>
<text transform="rotate(0.03 205.58 372.45)" x="205.58" y="372.45">18</text>
<text transform="rotate(0.03 215.22 372.45)" x="215.22" y="372.45">19</text>
<text transform="rotate(0.03 224.85 372.45)" x="224.85" y="372.45">20</text>
<text transform="rotate(0.03 234.48 372.45)" x="234.48" y="372.45">21</text>
<text transform="rotate(0.03 244.12 372.45)" x="244.12" y="372.45">22</text>
<text transform="rotate(0.03 253.75 372.45)" x="253.75" y="372.45">23</text>
<text transform="rotate(0.03 263.38 372.45)" x="263.38" y="372.45">24</text>
</g><g text-anchor="end" font-size="6.75">
<text transform="rotate(0.03 23 366.7)" x="23" y="366.7">0.0</text>
<text transform="rotate(0.03 23 348.55)" x="23" y="348.55">0.5</text>
<text transform="rotate(0.03 23 330.4)" x="23" y="330.4">1.0</text>
<text transform="rotate(0.03 23 312.25)" x="23" y="312.25">1.5</text>
<text transform="rotate(0.03 23 294.1)" x="23" y="294.1">2.0</text>
<text transform="rotate(0.03 23 275.95)" x="23" y="275.95">2.5</text>
<text transform="rotate(0.03 23 257.8)" x="23" y="257.8">3.0</text>
</g>
<rect x="30" y="257.8" width="61.8" height="22.5" rx="1.5" fill="#fff" fill-opacity="0.8" stroke="#e4e4e4" stroke-width="0.7"/>
<rect x="32.96" y="261.55" width="14" height="4.8" fill="#7b68ee"/>
<rect x="32.96" y="271.95" width="14" height="4.8" fill="#d2691e"/>
<text transform="rotate(0.03 52.16 266.5)" font-size="7.1" x="52.16" y="266.5">PRUFS</text>
<text transform="rotate(0.03 52.16 276.75)" font-size="7.1" x="52.16" y="276.75">Correction</text>
</g>
<text transform="rotate(0.03 268.1 266.5)" class="tag" x="268.1" y="266.5">(e)</text>
<text class="lab" transform="translate(8.9 309.65) rotate(-89.97)">RMSE(m/s)</text>
</g>
<g>
<rect x="306.7" y="294.4" width="3.83" height="69.1" fill="#7b68ee"/>
<rect x="310.54" y="334.98" width="3.83" height="28.52" fill="#d2691e"/>
<rect x="316.29" y="295.42" width="3.83" height="68.08" fill="#7b68ee"/>
<rect x="320.12" y="335.42" width="3.83" height="28.08" fill="#d2691e"/>
<rect x="325.87" y="296" width="3.83" height="67.5" fill="#7b68ee"/>
<rect x="329.71" y="335.6" width="3.83" height="27.9" fill="#d2691e"/>
<rect x="335.46" y="296.21" width="3.83" height="67.29" fill="#7b68ee"/>
<rect x="339.29" y="335.42" width="3.83" height="28.08" fill="#d2691e"/>
<rect x="345.04" y="296.39" width="3.83" height="67.11" fill="#7b68ee"/>
<rect x="348.87" y="334.98" width="3.83" height="28.52" fill="#d2691e"/>
<rect x="354.62" y="296.61" width="3.83" height="66.89" fill="#7b68ee"/>
<rect x="358.46" y="334.58" width="3.83" height="28.92" fill="#d2691e"/>
<rect x="364.21" y="296.79" width="3.83" height="66.71" fill="#7b68ee"/>
<rect x="368.04" y="334.19" width="3.83" height="29.31" fill="#d2691e"/>
<rect x="373.79" y="296.21" width="3.83" height="67.29" fill="#7b68ee"/>
<rect x="377.62" y="332.99" width="3.83" height="30.51" fill="#d2691e"/>
<rect x="383.37" y="293.61" width="3.83" height="69.89" fill="#7b68ee"/>
<rect x="387.21" y="331.18" width="3.83" height="32.32" fill="#d2691e"/>
<rect x="392.96" y="293.39" width="3.83" height="70.11" fill="#7b68ee"/>
<rect x="396.79" y="330.6" width="3.83" height="32.9" fill="#d2691e"/>
<rect x="402.54" y="296" width="3.83" height="67.5" fill="#7b68ee"/>
<rect x="406.37" y="331.4" width="3.83" height="32.1" fill="#d2691e"/>
<rect x="412.12" y="298.24" width="3.83" height="65.26" fill="#7b68ee"/>
<rect x="415.96" y="331.18" width="3.83" height="32.32" fill="#d2691e"/>
<rect x="421.71" y="299.62" width="3.83" height="63.88" fill="#7b68ee"/>
<rect x="425.54" y="331.18" width="3.83" height="32.32" fill="#d2691e"/>
<rect x="431.29" y="299.22" width="3.83" height="64.28" fill="#7b68ee"/>
<rect x="435.13" y="331.4" width="3.83" height="32.1" fill="#d2691e"/>
<rect x="440.88" y="297.81" width="3.83" height="65.69" fill="#7b68ee"/>
<rect x="444.71" y="331.62" width="3.83" height="31.88" fill="#d2691e"/>
<rect x="450.46" y="295.81" width="3.83" height="67.69" fill="#7b68ee"/>
<rect x="454.29" y="331.62" width="3.83" height="31.88" fill="#d2691e"/>
<rect x="460.04" y="294" width="3.83" height="69.5" fill="#7b68ee"/>
<rect x="463.88" y="331.4" width="3.83" height="32.1" fill="#d2691e"/>
<rect x="469.63" y="295.81" width="3.83" height="67.69" fill="#7b68ee"/>
<rect x="473.46" y="331.62" width="3.83" height="31.88" fill="#d2691e"/>
<rect x="479.21" y="294.62" width="3.83" height="68.88" fill="#7b68ee"/>
<rect x="483.04" y="332.01" width="3.83" height="31.49" fill="#d2691e"/>
<rect x="488.79" y="292.99" width="3.83" height="70.51" fill="#7b68ee"/>
<rect x="492.63" y="332.81" width="3.83" height="30.69" fill="#d2691e"/>
<rect x="498.38" y="292.19" width="3.83" height="71.31" fill="#7b68ee"/>
<rect x="502.21" y="333.61" width="3.83" height="29.89" fill="#d2691e"/>
<rect x="507.96" y="292.3" width="3.83" height="71.2" fill="#7b68ee"/>
<rect x="511.79" y="334.26" width="3.83" height="29.24" fill="#d2691e"/>
<rect x="517.54" y="293.21" width="3.83" height="70.29" fill="#7b68ee"/>
<rect x="521.38" y="335.09" width="3.83" height="28.41" fill="#d2691e"/>
<rect x="527.13" y="293.61" width="3.83" height="69.89" fill="#7b68ee"/>
<rect x="530.96" y="335.09" width="3.83" height="28.41" fill="#d2691e"/>
<rect x="295.3" y="254.6" width="250.9" height="108.9" fill="none" stroke="#999" stroke-width="1"/>
<path d="M310.54 363.5v1.7M320.12 363.5v1.7M329.71 363.5v1.7M339.29 363.5v1.7M348.87 363.5v1.7M358.46 363.5v1.7M368.04 363.5v1.7M377.62 363.5v1.7M387.21 363.5v1.7M396.79 363.5v1.7M406.37 363.5v1.7M415.96 363.5v1.7M425.54 363.5v1.7M435.13 363.5v1.7M444.71 363.5v1.7M454.29 363.5v1.7M463.88 363.5v1.7M473.46 363.5v1.7M483.04 363.5v1.7M492.63 363.5v1.7M502.21 363.5v1.7M511.79 363.5v1.7M521.38 363.5v1.7M530.96 363.5v1.7M295.3 363.5h-1.7M295.3 345.35h-1.7M295.3 327.2h-1.7M295.3 309.05h-1.7M295.3 290.9h-1.7M295.3 272.75h-1.7M295.3 254.6h-1.7" stroke="#999" stroke-width="0.6" fill="none"/>
<g class="t" font-size="7.1" fill="#2e2e2e">
<g text-anchor="middle" font-size="6.35">
<text transform="rotate(0.03 310.54 372.45)" x="310.54" y="372.45">0</text>
<text transform="rotate(0.03 320.12 372.45)" x="320.12" y="372.45">1</text>
<text transform="rotate(0.03 329.71 372.45)" x="329.71" y="372.45">2</text>
<text transform="rotate(0.03 339.29 372.45)" x="339.29" y="372.45">3</text>
<text transform="rotate(0.03 348.87 372.45)" x="348.87" y="372.45">4</text>
<text transform="rotate(0.03 358.46 372.45)" x="358.46" y="372.45">5</text>
<text transform="rotate(0.03 368.04 372.45)" x="368.04" y="372.45">6</text>
<text transform="rotate(0.03 377.62 372.45)" x="377.62" y="372.45">7</text>
<text transform="rotate(0.03 387.21 372.45)" x="387.21" y="372.45">8</text>
<text transform="rotate(0.03 396.79 372.45)" x="396.79" y="372.45">9</text>
<text transform="rotate(0.03 406.37 372.45)" x="406.37" y="372.45">10</text>
<text transform="rotate(0.03 415.96 372.45)" x="415.96" y="372.45">11</text>
<text transform="rotate(0.03 425.54 372.45)" x="425.54" y="372.45">12</text>
<text transform="rotate(0.03 435.13 372.45)" x="435.13" y="372.45">13</text>
<text transform="rotate(0.03 444.71 372.45)" x="444.71" y="372.45">14</text>
<text transform="rotate(0.03 454.29 372.45)" x="454.29" y="372.45">15</text>
<text transform="rotate(0.03 463.88 372.45)" x="463.88" y="372.45">16</text>
<text transform="rotate(0.03 473.46 372.45)" x="473.46" y="372.45">17</text>
<text transform="rotate(0.03 483.04 372.45)" x="483.04" y="372.45">18</text>
<text transform="rotate(0.03 492.63 372.45)" x="492.63" y="372.45">19</text>
<text transform="rotate(0.03 502.21 372.45)" x="502.21" y="372.45">20</text>
<text transform="rotate(0.03 511.79 372.45)" x="511.79" y="372.45">21</text>
<text transform="rotate(0.03 521.38 372.45)" x="521.38" y="372.45">22</text>
<text transform="rotate(0.03 530.96 372.45)" x="530.96" y="372.45">23</text>
</g><g text-anchor="end" font-size="6.75">
<text transform="rotate(0.03 291.8 366.7)" x="291.8" y="366.7">0.0</text>
<text transform="rotate(0.03 291.8 348.55)" x="291.8" y="348.55">0.5</text>
<text transform="rotate(0.03 291.8 330.4)" x="291.8" y="330.4">1.0</text>
<text transform="rotate(0.03 291.8 312.25)" x="291.8" y="312.25">1.5</text>
<text transform="rotate(0.03 291.8 294.1)" x="291.8" y="294.1">2.0</text>
<text transform="rotate(0.03 291.8 275.95)" x="291.8" y="275.95">2.5</text>
<text transform="rotate(0.03 291.8 257.8)" x="291.8" y="257.8">3.0</text>
</g>
<rect x="298.8" y="257.8" width="61.8" height="22.5" rx="1.5" fill="#fff" fill-opacity="0.8" stroke="#e4e4e4" stroke-width="0.7"/>
<rect x="301.76" y="261.55" width="14" height="4.8" fill="#7b68ee"/>
<rect x="301.76" y="271.95" width="14" height="4.8" fill="#d2691e"/>
<text transform="rotate(0.03 320.96 266.5)" font-size="7.1" x="320.96" y="266.5">PRUFS</text>
<text transform="rotate(0.03 320.96 276.75)" font-size="7.1" x="320.96" y="276.75">Correction</text>
</g>
<text transform="rotate(0.03 535.9 266.5)" class="tag r" x="535.9" y="266.5">(f)</text>
</g>
<text transform="rotate(0.03 152.7 382.2)" class="lab" style="font-size:8px" x="152.7" y="382.2">forcast time</text>
<text transform="rotate(0.03 420.7 382.2)" class="lab" style="font-size:8px" x="420.7" y="382.2">local time</text>
</svg>
</body></html>
